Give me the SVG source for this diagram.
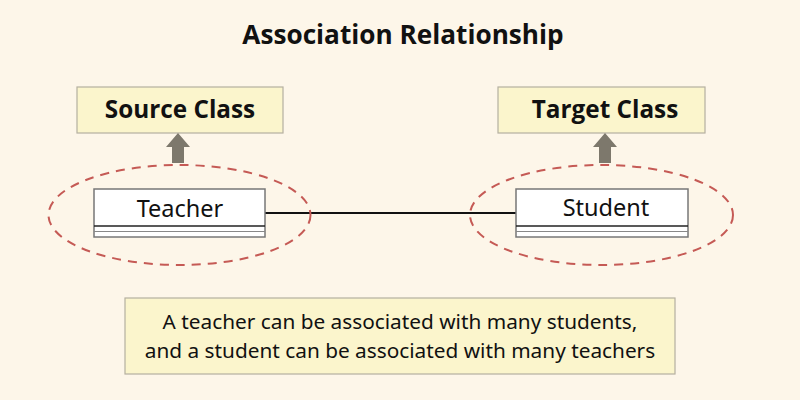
<svg xmlns="http://www.w3.org/2000/svg" width="800" height="400" viewBox="0 0 800 400">
<style>
.bg{fill:#fdf6e9}
.label{fill:#fbf5cc;stroke:#b5b0a0;stroke-width:1.2}
.lt{font-family:"Open Sans","Noto Sans",sans-serif;font-weight:700;font-size:24.3px;fill:#111;text-anchor:middle}
.cls{fill:#fff;stroke:#777;stroke-width:1.5}
.ct{font-family:"Noto Sans","Open Sans",sans-serif;font-size:23.5px;fill:#111;text-anchor:middle}
.sep{stroke:#222;stroke-width:1.5}
.sep2{stroke:#888;stroke-width:1.2}
.ell{fill:none;stroke:#c55a55;stroke-width:2;stroke-dasharray:9 7}
.arr{fill:#7d786c}
.bt{font-family:"Noto Sans","Open Sans",sans-serif;font-size:20.8px;fill:#111;text-anchor:middle}
</style>
<rect class="bg" x="0" y="0" width="800" height="400"/>
<text x="403" y="44" font-family="'Open Sans','Noto Sans',sans-serif" font-weight="700" font-size="26.2" fill="#111" text-anchor="middle">Association Relationship</text>
<g id="connectors">
<line x1="265" y1="213" x2="516" y2="213" stroke="#111" stroke-width="2"/>
</g>
<g id="source-label">
<rect class="label" x="77" y="87" width="206" height="46"/>
<text class="lt" x="180" y="118">Source Class</text>
</g>
<g id="source-arrow">
<path class="arr" d="M166,147 L178,133 L190,147 L184,147 L184,163 L172,163 L172,147 Z"/>
</g>
<g id="teacher">
<ellipse class="ell" cx="179.5" cy="215" rx="131" ry="50"/>
<rect class="cls" x="94" y="189" width="171" height="48"/>
<line class="sep" x1="94" y1="226" x2="265" y2="226"/>
<line class="sep2" x1="94" y1="231.5" x2="265" y2="231.5"/>
<text class="ct" x="180" y="217">Teacher</text>
</g>
<g id="target-label">
<rect class="label" x="498" y="87" width="207" height="46"/>
<text class="lt" x="605" y="118">Target Class</text>
</g>
<g id="target-arrow">
<path class="arr" d="M593,147 L605,133 L617,147 L611,147 L611,163 L599,163 L599,147 Z"/>
</g>
<g id="student">
<ellipse class="ell" cx="601.5" cy="215" rx="131.5" ry="50"/>
<rect class="cls" x="516" y="189" width="172" height="48"/>
<line class="sep" x1="516" y1="226" x2="688" y2="226"/>
<line class="sep2" x1="516" y1="231.5" x2="688" y2="231.5"/>
<text class="ct" x="606" y="216">Student</text>
</g>
<g id="note">
<rect class="label" x="125" y="298" width="550" height="76"/>
<text class="bt" x="400" y="328.5">A teacher can be associated with many students,</text>
<text class="bt" x="400" y="357.5">and a student can be associated with many teachers</text>
</g>
</svg>
